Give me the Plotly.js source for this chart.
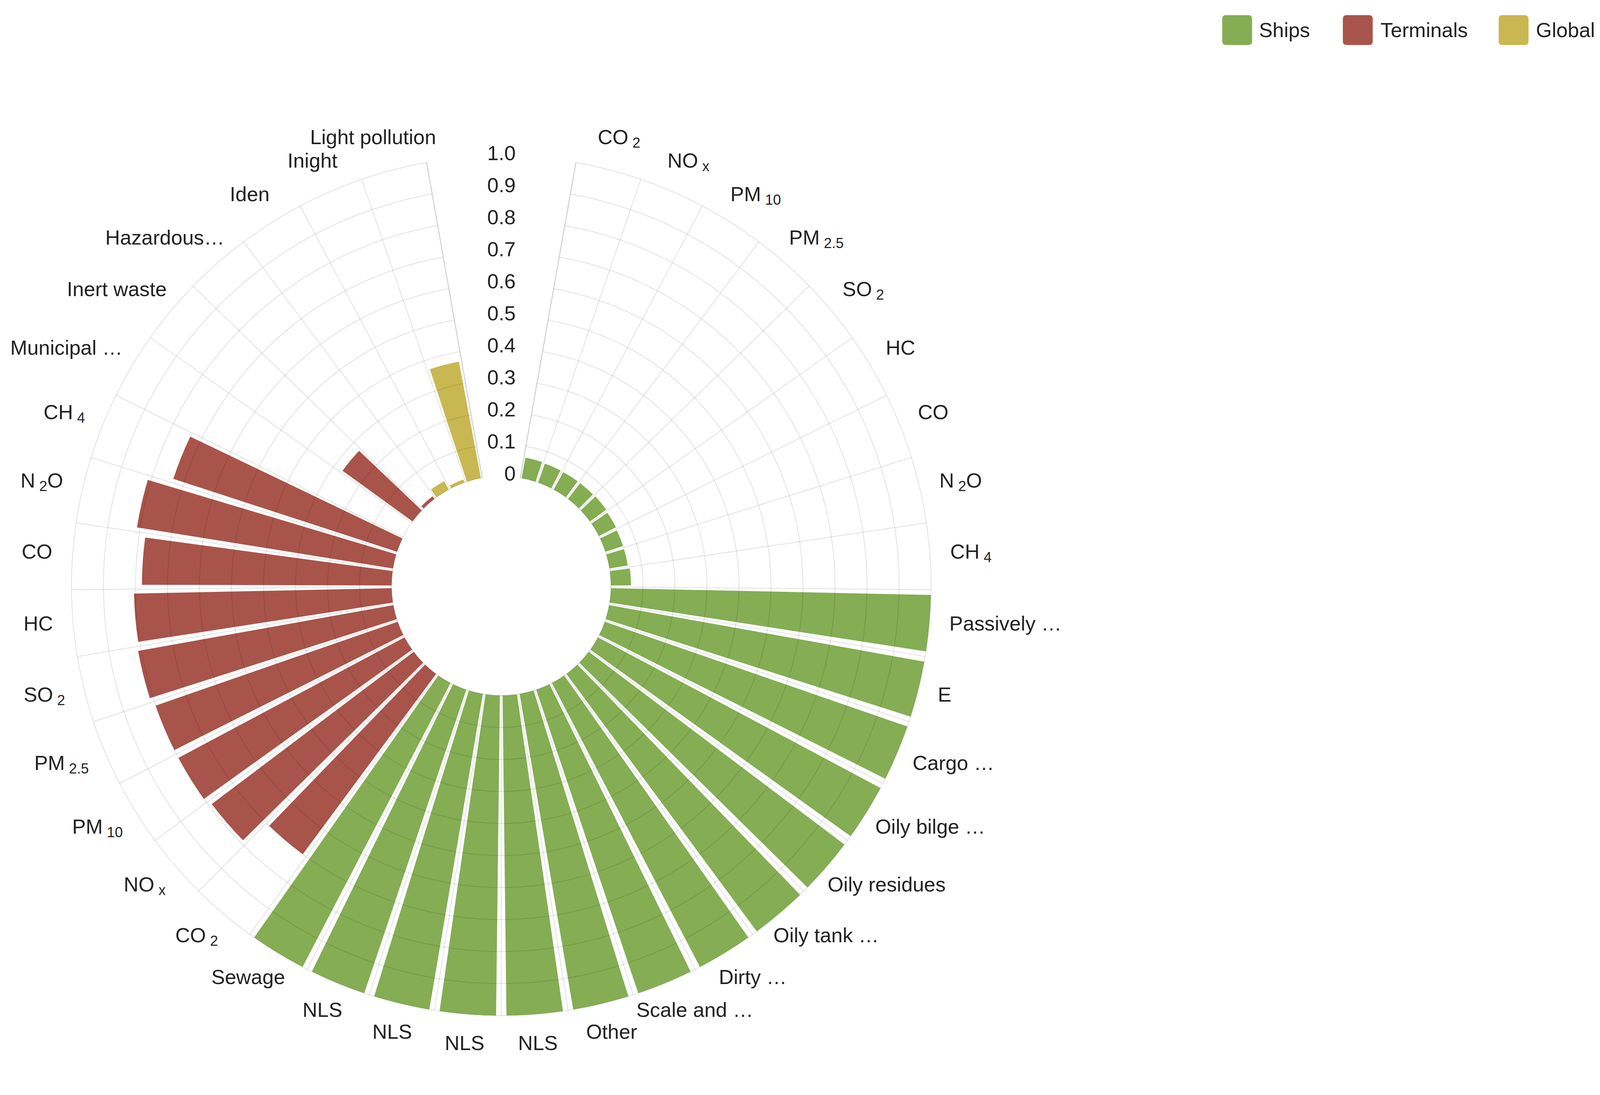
<!DOCTYPE html>
<html>
<head>
<meta charset="utf-8">
<script src="https://cdn.plot.ly/plotly-3.0.1.min.js"></script>
<style>
html,body{margin:0;padding:0;background:#ffffff;overflow:hidden;}
#chart{position:absolute;left:0;top:0;}
</style>
</head>
<body>
<div id="chart"></div>
<script>
// ---------------- data ----------------
const shipsLabels = ["CO<sub>2</sub>", "NO<sub>x</sub>", "PM<sub>10</sub>", "PM<sub>2.5</sub>", "SO<sub>2</sub>", "HC", "CO", "N<sub>2</sub>O", "CH<sub>4</sub>",
  "Passively …", "E", "Cargo …", "Oily bilge …", "Oily residues", "Oily tank …", "Dirty …", "Scale and …", "Other",
  "NLS", "NLS", "NLS", "NLS", "Sewage"];
const shipsValues = [0.065, 0.063, 0.062, 0.062, 0.063, 0.06, 0.058, 0.058, 0.063,
  1, 1, 1, 1, 1, 1, 1, 1, 1, 1, 1, 1, 1, 1];

const terminalsLabels = ["CO<sub>2</sub>", "NO<sub>x</sub>", "PM<sub>10</sub>", "PM<sub>2.5</sub>", "SO<sub>2</sub>", "HC", "CO", "N<sub>2</sub>O", "CH<sub>4</sub>",
  "Municipal …", "Inert waste", "Hazardous…"];
const terminalsValues = [0.70, 0.79, 0.80, 0.80, 0.81, 0.805, 0.78, 0.81, 0.735, 0, 0.27, 0.01];

const globalLabels = ["Iden", "Inight", "Light pollution"];
const globalValues = [0.03, 0.01, 0.37];

const seriesNames = ["Ships", "Terminals", "Global"];
const seriesColors = ["#85ad53", "#a9544a", "#c9b851"];

const radialTickValues = [0, 0.1, 0.2, 0.3, 0.4, 0.5, 0.6, 0.7, 0.8, 0.9, 1.0];
const radialTickLabels = ["0", "0.1", "0.2", "0.3", "0.4", "0.5", "0.6", "0.7", "0.8", "0.9", "1.0"];

// ---------------- geometry (reference pixels, scaled to the real viewport) ----------------
const REF_W = 4231, REF_H = 2803;
const W = window.innerWidth || REF_W;
const H = window.innerHeight || REF_H;
const S = W / REF_W;
const FONT_NAME = "Liberation Sans";
const FONT = "Liberation Sans, Arial, sans-serif";
const TXT = "#222222";
const FS = 54 * S;
const SUB_SCALE = 0.7;

const allLabels = shipsLabels.concat(terminalsLabels, globalLabels);
const nCat = allLabels.length;
const GAP_HALF = 10;                         // empty wedge of 20 degrees around the top
const SLOT = (360 - 2 * GAP_HALF) / nCat;    // degrees per category
const cx = 1325.5 * S, cy = 1549 * S, R = 1136.5 * S, HOLE = 0.255;

const centerTheta = i => GAP_HALF + SLOT * (i + 0.5);
const allCenters = allLabels.map((_, i) => centerTheta(i));
const boundaries = [];
for (let k = 0; k <= nCat; k++) boundaries.push(GAP_HALF + SLOT * k);

const shipsTheta = shipsLabels.map((_, i) => centerTheta(i));
const terminalsTheta = terminalsLabels.map((_, i) => centerTheta(i + shipsLabels.length));
const globalTheta = globalLabels.map((_, i) => centerTheta(i + shipsLabels.length + terminalsLabels.length));

// polar domain (sector bbox top = sin(90-GAP_HALF))
const topFrac = Math.sin((90 - GAP_HALF) * Math.PI / 180);
const dc = cy + R * (1 - topFrac) / 2;
const domX = [(cx - R) / W, (cx + R) / W];
const domY = [(H - (dc + R)) / H, (H - (dc - R)) / H];
const sector = [-(270 - GAP_HALF), 90 - GAP_HALF];

const GRID = "rgba(0,0,0,0.10)";
const GW = 2.5 * S;
const barWidth = SLOT * 0.845;

// ---------------- category label placement (box pushed outward along its angle) ----------------
// subscripts drawn as a smaller, lowered span (thin space before it, as in the original)
const toSvgLabel = lab => lab.replace(/<sub>(.*?)<\/sub>/g,
  "\u2009<span style='font-size:" + (SUB_SCALE * 100) + "%;baseline-shift:-0.25em'>$1</span>");
const svgLabels = allLabels.map(toSvgLabel);

const measureCtx = document.createElement("canvas").getContext("2d");
function labelWidth(label, size) {
  let w = 0;
  label.split(/(<sub>.*?<\/sub>)/).forEach(part => {
    if (!part) return;
    const m = part.match(/^<sub>(.*)<\/sub>$/);
    if (m) {
      measureCtx.font = size + "px '" + FONT_NAME + "'"; w += measureCtx.measureText("\u2009").width;
      measureCtx.font = (size * SUB_SCALE) + "px '" + FONT_NAME + "'"; w += measureCtx.measureText(m[1]).width;
    } else { measureCtx.font = size + "px '" + FONT_NAME + "'"; w += measureCtx.measureText(part).width; }
  });
  return w;
}
const LABEL_R = 1190 * S;      // horizontal anchor radius
const LABEL_RY = 1218.5 * S;   // vertical centre radius
const LABEL_LIFT = 1 * S;
const labelX = [], labelY = [];
allCenters.forEach((th, i) => {
  const t = th * Math.PI / 180;
  const w = labelWidth(allLabels[i], FS);
  labelX.push(cx + Math.sin(t) * (LABEL_R + w / 2));
  labelY.push(cy - Math.cos(t) * LABEL_RY - LABEL_LIFT);
});

const traces = [
  {type: "barpolar", subplot: "polar", name: seriesNames[0], r: shipsValues, theta: shipsTheta, width: barWidth,
   marker: {color: seriesColors[0], line: {width: 0}}, showlegend: false},
  {type: "barpolar", subplot: "polar", name: seriesNames[1], r: terminalsValues, theta: terminalsTheta, width: barWidth,
   marker: {color: seriesColors[1], line: {width: 0}}, showlegend: false},
  {type: "barpolar", subplot: "polar", name: seriesNames[2], r: globalValues, theta: globalTheta, width: barWidth,
   marker: {color: seriesColors[2], line: {width: 0}}, showlegend: false},
  // grid overlay subplot (drawn above the bars)
  {type: "scatterpolar", subplot: "polar2", r: [], theta: [], mode: "markers", showlegend: false, hoverinfo: "skip"},
  // carrier for the radial tick label axis
  {type: "scatter", x: [], y: [], xaxis: "x", yaxis: "y", mode: "markers", showlegend: false, hoverinfo: "skip"},
  // category labels around the circle
  {type: "scatter", x: labelX, y: labelY, xaxis: "x2", yaxis: "y2", mode: "text", text: svgLabels,
   textposition: "middle center", textfont: {family: FONT, size: FS, color: TXT},
   cliponaxis: false, showlegend: false, hoverinfo: "skip"}
];

const angularCommon = {type: "linear", thetaunit: "degrees", rotation: 90, direction: "clockwise"};

// legend with large rounded swatches
const legendSwatchX = [3232, 3551, 3963];
const legendTextX = [3327, 3648, 4060];
const legendY0 = 40, legendY1 = 119, SW = 79, CR = 10;
function px2x(v) { return v * S / W; }
function px2y(v) { return 1 - v * S / H; }
function roundRect(x0, y0, x1, y1, r) {
  const X = px2x, Y = px2y;
  return "M" + X(x0 + r) + "," + Y(y0) +
    " L" + X(x1 - r) + "," + Y(y0) + " Q" + X(x1) + "," + Y(y0) + " " + X(x1) + "," + Y(y0 + r) +
    " L" + X(x1) + "," + Y(y1 - r) + " Q" + X(x1) + "," + Y(y1) + " " + X(x1 - r) + "," + Y(y1) +
    " L" + X(x0 + r) + "," + Y(y1) + " Q" + X(x0) + "," + Y(y1) + " " + X(x0) + "," + Y(y1 - r) +
    " L" + X(x0) + "," + Y(y0 + r) + " Q" + X(x0) + "," + Y(y0) + " " + X(x0 + r) + "," + Y(y0) + " Z";
}
const shapes = seriesNames.map((n, i) => ({
  type: "path", xref: "paper", yref: "paper",
  path: roundRect(legendSwatchX[i], legendY0, legendSwatchX[i] + SW, legendY1, CR),
  fillcolor: seriesColors[i], line: {width: 0}
}));
const annotations = seriesNames.map((n, i) => ({
  xref: "paper", yref: "paper", x: px2x(legendTextX[i]), y: px2y((legendY0 + legendY1) / 2),
  xanchor: "left", yanchor: "middle", text: n, showarrow: false,
  font: {family: FONT, size: FS, color: TXT}
}));

const labelLift = 8 * S;   // radial tick labels sit slightly above their circles

const layout = {
  width: W, height: H,
  margin: {l: 0, r: 0, t: 0, b: 0, pad: 0},
  paper_bgcolor: "#ffffff",
  plot_bgcolor: "rgba(0,0,0,0)",
  font: {family: FONT, size: FS, color: TXT},
  showlegend: false,
  polar: {
    domain: {x: domX, y: domY},
    sector: sector,
    hole: HOLE,
    bgcolor: "rgba(0,0,0,0)",
    barmode: "overlay",
    radialaxis: {range: [0, 1], showgrid: false, showticklabels: false, showline: false, ticks: ""},
    angularaxis: Object.assign({}, angularCommon, {
      tickmode: "array", tickvals: allCenters, showticklabels: false,
      showgrid: false, showline: false, ticks: ""
    })
  },
  polar2: {
    domain: {x: domX, y: domY},
    sector: sector,
    hole: HOLE,
    bgcolor: "rgba(0,0,0,0)",
    radialaxis: {range: [0, 1], tickmode: "array", tickvals: radialTickValues.slice(1, -1),
      showgrid: true, gridcolor: GRID, gridwidth: GW, showticklabels: false, showline: false, ticks: ""},
    angularaxis: Object.assign({}, angularCommon, {
      tickmode: "array", tickvals: boundaries, showticklabels: false, ticks: "",
      showgrid: true, gridcolor: GRID, gridwidth: GW,
      showline: true, linecolor: GRID, linewidth: GW
    })
  },
  xaxis: {visible: false, domain: [0, 0.01], range: [0, 1], fixedrange: true},
  yaxis: {
    anchor: "free", position: (cx + 38 * S) / W, side: "left",
    domain: [(H - (cy - HOLE * R) + labelLift) / H, (H - (cy - R) + labelLift) / H],
    range: [0, 1], tickmode: "array", tickvals: radialTickValues, ticktext: radialTickLabels,
    showgrid: false, zeroline: false, showline: false, ticks: "", fixedrange: true,
    tickfont: {family: FONT, size: FS, color: TXT}
  },
  xaxis2: {visible: false, domain: [0, 1], range: [0, W], anchor: "y2", fixedrange: true},
  yaxis2: {visible: false, domain: [0, 1], range: [H, 0], anchor: "x2", fixedrange: true},
  shapes: shapes,
  annotations: annotations
};

document.getElementById("chart").style.width = W + "px";
document.getElementById("chart").style.height = H + "px";
Plotly.newPlot("chart", traces, layout, {staticPlot: true, displayModeBar: false});
</script>
</body>
</html>
